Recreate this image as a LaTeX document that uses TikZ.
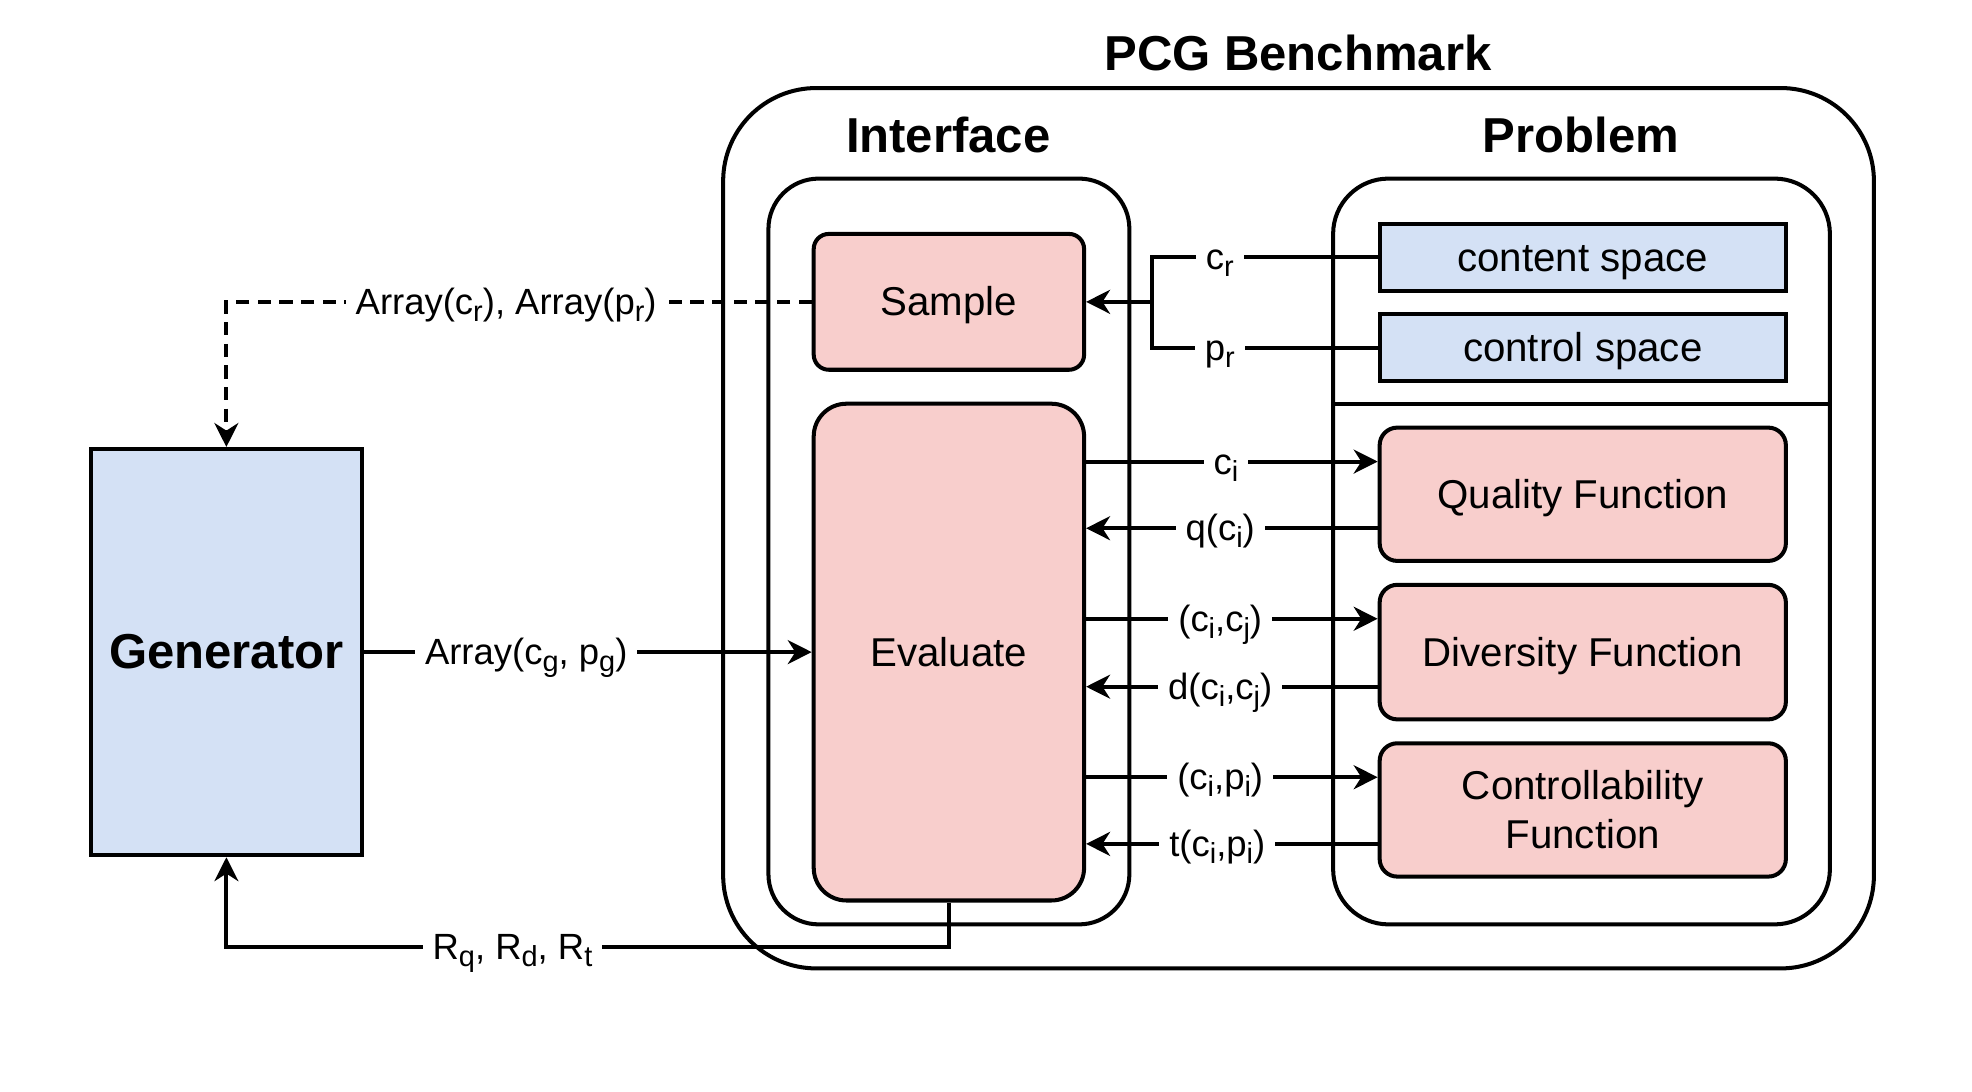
\documentclass[tikz,border=0pt]{standalone}
\usepackage{fontspec}
\setmainfont{Liberation Sans}
\usetikzlibrary{arrows.meta,calc}
\definecolor{pinkfill}{HTML}{F8CECC}
\definecolor{bluefill}{HTML}{D4E1F5}
\newcommand\sbs[1]{\raisebox{-2.8pt}{\fontsize{11.5}{12}\selectfont #1}}
\begin{document}
\begin{tikzpicture}[x=0.5pt,y=-0.5pt,
  line width=1.6pt,
  body/.style={font=\fontsize{16}{19.5}\selectfont},
  lbl/.style={font=\fontsize{14.5}{17}\selectfont, fill=white, inner xsep=4pt, inner ysep=0pt, text height=13pt, text depth=3pt},
  ttl/.style={font=\fontsize{19.5}{23}\selectfont\bfseries},
  onel/.style={text height=14.5pt, text depth=3.4pt},
  pinkbox/.style={draw, fill=pinkfill, body, align=center, inner sep=0pt, minimum width=161.5pt},
  bluebox/.style={draw, fill=bluefill, body, onel, inner sep=0pt, minimum width=161.5pt, minimum height=26.5pt},
  arr/.style={-{Stealth[length=9.5pt,width=9.5pt,inset=3pt]}},
  frame/.style={draw, inner sep=0pt}
]
\useasboundingbox (0,0) rectangle (1568,868);
% containers
\node[frame, rounded corners=37pt, minimum width=457.5pt, minimum height=350pt] (outer) at (1032.5,420) {};
\node[ttl] (ttlpcg) at (1032,42) {PCG Benchmark};
\node[frame, rounded corners=20pt, minimum width=143.5pt, minimum height=296.5pt] (iface) at (754.5,438.5) {};
\node[frame, rounded corners=22pt, minimum width=197.5pt, minimum height=296.5pt] (prob) at (1257.5,438.5) {};
\node[ttl] (ttliface) at (754,107) {Interface};
\node[ttl] (ttlprob) at (1257,107) {Problem};
\draw (prob.west |- 0,321) coordinate (divl) -- (prob.east |- 0,321) coordinate (divr);
% interface nodes
\node[pinkbox, onel, rounded corners=6pt, minimum width=107.5pt, minimum height=54pt] (sample) at (754.5,240) {Sample};
\node[pinkbox, rounded corners=13pt, minimum width=107.5pt, minimum height=197.5pt] (eval) at (754.5,518.5) {Evaluate};
% problem nodes
\node[bluebox] (content) at (1258.5,204.5) {content space};
\node[bluebox] (control) at (1258.5,276.5) {control space};
\node[pinkbox, onel, rounded corners=7pt, minimum height=53pt] (qf) at (1258.5,393) {Quality Function};
\node[pinkbox, onel, rounded corners=7pt, minimum height=53.5pt] (df) at (1258.5,518.5) {Diversity Function};
\node[pinkbox, rounded corners=7pt, minimum height=53pt] (cf) at (1258.5,644) {Controllability\\Function};
% generator
\node[draw, fill=bluefill, inner sep=0pt, minimum width=108pt, minimum height=161.5pt, font=\fontsize{19.5}{23}\selectfont\bfseries] (gen) at (180,518.5) {Generator};
% sample inputs
\coordinate (junc) at (916,240);
\draw (content.west) -| (junc) node[lbl, pos=0.35] {c\sbs{r}};
\draw (control.west) -| (junc) node[lbl, pos=0.35] {p\sbs{r}};
\draw[arr] (junc) -- (sample.east);
% dashed to generator
\draw[arr, dash pattern=on 5.2pt off 3.4pt] (sample.west) -| (gen.north) node[lbl, pos=0.261] {Array(c\sbs{r}), Array(p\sbs{r})};
% generator to evaluate
\draw[arr] (gen.east) -- (eval.west) node[lbl, pos=0.362] {Array(c\sbs{g}, p\sbs{g})};
% rewards
\draw[arr] (eval.south) -- ++(0,35) -| (gen.south) node[lbl, pos=0.302] {R\sbs{q}, R\sbs{d}, R\sbs{t}};
% evaluate <-> functions
\coordinate (qa) at ([yshift=13pt]qf.west);
\coordinate (qb) at ([yshift=-13.5pt]qf.west);
\coordinate (da) at ([yshift=13.25pt]df.west);
\coordinate (db) at ([yshift=-13.75pt]df.west);
\coordinate (ca) at ([yshift=13pt]cf.west);
\coordinate (cb) at ([yshift=-13.5pt]cf.west);
\draw[arr] (qa -| eval.east) -- (qa) node[lbl, pos=0.48] {c\sbs{i}};
\draw[arr] (qb) -- (qb -| eval.east) node[lbl, pos=0.54] {q(c\sbs{i})};
\draw[arr] (da -| eval.east) -- (da) node[lbl, pos=0.46] {(c\sbs{i},c\sbs{j})};
\draw[arr] (db) -- (db -| eval.east) node[lbl, pos=0.54] {d(c\sbs{i},c\sbs{j})};
\draw[arr] (ca -| eval.east) -- (ca) node[lbl, pos=0.46] {(c\sbs{i},p\sbs{i})};
\draw[arr] (cb) -- (cb -| eval.east) node[lbl, pos=0.55] {t(c\sbs{i},p\sbs{i})};
\end{tikzpicture}
\end{document}
